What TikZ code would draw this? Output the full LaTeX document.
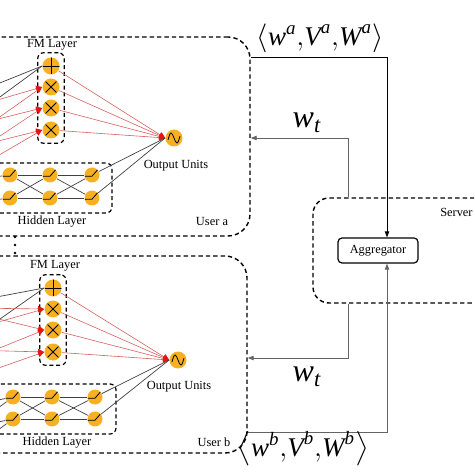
\documentclass[tikz,border=0pt]{standalone}
\usepackage{amsmath}
\usepackage{fontspec}
\setmainfont{Liberation Serif}
\usetikzlibrary{arrows.meta,fit}
\definecolor{nodeor}{RGB}{246,176,34}
\definecolor{redln}{RGB}{214,96,96}
\definecolor{redtip}{RGB}{230,20,20}
\definecolor{conn}{RGB}{100,100,100}
\begin{document}
\begin{tikzpicture}[x=0.5pt,y=-0.5pt,
  font=\fontsize{6.2}{7}\selectfont,
  neuron/.style={circle, fill=nodeor, minimum size=8.5pt, inner sep=0pt},
  plusn/.style={neuron, path picture={\draw[line width=0.4pt] (path picture bounding box.north) -- (path picture bounding box.south) (path picture bounding box.west) -- (path picture bounding box.east);}},
  timesn/.style={neuron, path picture={\draw[line width=0.4pt] ([shift={(-2.7pt,-2.7pt)}]path picture bounding box.center) -- ([shift={(2.7pt,2.7pt)}]path picture bounding box.center) ([shift={(-2.7pt,2.7pt)}]path picture bounding box.center) -- ([shift={(2.7pt,-2.7pt)}]path picture bounding box.center);}},
  relun/.style={neuron, minimum size=7.5pt, path picture={\draw[line width=0.4pt] ([shift={(-3.8pt,-0.6pt)}]path picture bounding box.center) -- ([shift={(0pt,-0.6pt)}]path picture bounding box.center) -- ([shift={(2.8pt,2.6pt)}]path picture bounding box.center);}},
  sinen/.style={neuron, path picture={\draw[line width=0.4pt] ([shift={(-3pt,-1pt)}]path picture bounding box.center) sin ([shift={(-1.5pt,2.5pt)}]path picture bounding box.center) cos (path picture bounding box.center) sin ([shift={(1.5pt,-2.5pt)}]path picture bounding box.center) cos ([shift={(3pt,1pt)}]path picture bounding box.center);}},
  dbox/.style={draw, dash pattern=on 2pt off 1.4pt, line width=0.6pt, rounded corners=3pt},
  userbox/.style={draw, dash pattern=on 2.2pt off 1.5pt, line width=0.7pt, rounded corners=11pt, inner sep=0pt},
  edge/.style={draw=black!75, line width=0.35pt},
  fmin/.style={draw=redln, line width=0.3pt},
  fmtip/.style={-{Triangle[length=3pt,width=3pt,color=redtip]}},
  flow/.style={line width=0.45pt, -{Triangle[length=3pt,width=2.2pt]}},
  lbl/.style={inner sep=1pt},
  mlbl/.style={inner sep=0pt, font=\fontsize{13.5}{15}\selectfont}
]
\useasboundingbox (0,0) rectangle (474,474);
\clip (0,0) rectangle (474,474);

% ---------- containers ----------
\node[userbox, minimum width=140pt, minimum height=99.5pt] (ua) at (110,136.5) {};
\node[userbox, minimum width=138.5pt, minimum height=98.5pt] (ub) at (108.5,354.5) {};
\node[userbox, minimum width=103.5pt, minimum height=52.5pt, rounded corners=8pt] (srv) at (416.5,250.5) {};
\node[draw, line width=0.6pt, rounded corners=2pt, minimum width=40pt, minimum height=12.5pt, inner sep=0pt] (agg) at (378,250.5) {Aggregator};
\node[anchor=east, inner sep=0.5pt] (srvl) at (474,212) {Server};
\node[lbl] (usa) at (212,222) {User a};
\node[lbl] (usb) at (214,442) {User b};

% ---------- user a network ----------
\node[plusn]  (fa1) at (51,66) {};
\node[timesn] (fa2) at (51,87) {};
\node[timesn] (fa3) at (51,108) {};
\node[timesn] (fa4) at (51,130) {};
\node[dbox, fit=(fa1)(fa4), inner sep=2.2pt] (fma) {};
\node[lbl] (fmla) at (52,45) {FM Layer};
\node[sinen] (oa) at (174,138) {};
\node[lbl] (oula) at (176,166) {Output Units};
\node[relun] (ha11) at (10,175) {};
\node[relun] (ha12) at (10,198) {};
\node[relun] (ha21) at (50,175) {};
\node[relun] (ha22) at (50,198) {};
\node[relun] (ha31) at (92,175) {};
\node[relun] (ha32) at (92,198) {};
\draw[dbox] (-20,163) rectangle (112,213);
\node[lbl] (hla) at (52,222) {Hidden Layer};

\coordinate (ia1) at (-30,95);
\coordinate (ia2) at (-30,119);
\coordinate (ia3) at (-30,108);
\coordinate (ia4) at (-30,138);
\coordinate (ia5) at (-30,126);
\coordinate (ia6) at (-30,156);
\coordinate (ia7) at (-30,148);
\coordinate (ia8) at (-30,172);
\coordinate (ha01) at (-15,178);
\coordinate (ha02) at (-15,201);

\draw[edge] (ia1) -- (fa1.west);
\draw[edge] (ia2) -- (fa1.west);
\draw[fmin, fmtip] (ia3) -- (fa2.west);
\draw[fmin, fmtip] (ia4) -- (fa2.west);
\draw[fmin, fmtip] (ia5) -- (fa3.west);
\draw[fmin, fmtip] (ia6) -- (fa3.west);
\draw[fmin, fmtip] (ia7) -- (fa4.west);
\draw[fmin, fmtip] (ia8) -- (fa4.west);
\foreach \s in {fa1,fa2,fa3,fa4} \draw[fmin, fmtip] (\s) -- (oa.west);
\draw[edge] (ha01) -- (ha11);
\draw[edge] (ha02) -- (ha12);
\foreach \s in {ha11,ha12} \foreach \t in {ha21,ha22} \draw[edge] (\s) -- (\t);
\foreach \s in {ha21,ha22} \foreach \t in {ha31,ha32} \draw[edge] (\s) -- (\t);
\draw[edge] (ha31) -- (oa.west);
\draw[edge] (ha32) -- (oa.west);

% ---------- user b network ----------
\node[plusn]  (fb1) at (53,288) {};
\node[timesn] (fb2) at (53,309) {};
\node[timesn] (fb3) at (53,330) {};
\node[timesn] (fb4) at (53,352) {};
\node[dbox, fit=(fb1)(fb4), inner sep=2.2pt] (fmb) {};
\node[lbl] (fmlb) at (55,266) {FM Layer};
\node[sinen] (ob) at (178,360) {};
\node[lbl] (oulb) at (179,387) {Output Units};
\node[relun] (hb11) at (13,397) {};
\node[relun] (hb12) at (13,419) {};
\node[relun] (hb21) at (52,397) {};
\node[relun] (hb22) at (52,419) {};
\node[relun] (hb31) at (95,397) {};
\node[relun] (hb32) at (95,419) {};
\draw[dbox] (-20,384) rectangle (116,434);
\node[lbl] (hlb) at (57,443) {Hidden Layer};

\coordinate (ib1) at (-30,302);
\coordinate (ib2) at (-30,340);
\coordinate (ib3) at (-30,308);
\coordinate (ib4) at (-30,330);
\coordinate (ib5) at (-30,312);
\coordinate (ib6) at (-30,360);
\coordinate (ib7) at (-30,350);
\coordinate (ib8) at (-30,378);
\coordinate (hb01) at (-12,402);
\coordinate (hb02) at (-12,424);
\coordinate (hb03) at (-2,408);
\coordinate (hb04) at (-2,430);

\draw[edge] (ib1) -- (fb1.west);
\draw[edge] (ib2) -- (fb1.west);
\draw[fmin, fmtip] (ib3) -- (fb2.west);
\draw[fmin, fmtip] (ib4) -- (fb2.west);
\draw[fmin, fmtip] (ib5) -- (fb3.west);
\draw[fmin, fmtip] (ib6) -- (fb3.west);
\draw[fmin, fmtip] (ib7) -- (fb4.west);
\draw[fmin, fmtip] (ib8) -- (fb4.west);
\foreach \s in {fb1,fb2,fb3,fb4} \draw[fmin, fmtip] (\s) -- (ob.west);
\draw[edge] (hb01) -- (hb11);
\draw[edge] (hb02) -- (hb12);
\draw[edge] (hb03) -- (hb11);
\draw[edge] (hb04) -- (hb12);
\foreach \s in {hb11,hb12} \foreach \t in {hb21,hb22} \draw[edge] (\s) -- (\t);
\foreach \s in {hb21,hb22} \foreach \t in {hb31,hb32} \draw[edge] (\s) -- (\t);
\draw[edge] (hb31) -- (ob.west);
\draw[edge] (hb32) -- (ob.west);

% ---------- vertical dots ----------
\foreach \y in {237,245,253} \fill (15,\y) circle (0.65pt);

% ---------- flows ----------
\coordinate (pa) at (387,57);
\draw[flow] (ua.east |- pa) -- (pa) -- (agg.north -| pa);
\coordinate (qa) at (348,138);
\draw[flow, conn] (srv.north -| qa) -- (qa) -- (ua.east |- qa);
\coordinate (qb) at (348,358);
\draw[flow, conn] (srv.south -| qb) -- (qb) -- (ub.east |- qb);
\coordinate (pb) at (387,432);
\draw[flow, conn] (ub.east |- pb) -- (pb) -- (agg.south -| pb);

\node[mlbl] (laba) at (320,38) {$\left\langle \textit{w}^{\textit{a}}{,}\textit{V}^{\textit{a}}{,}\textit{W}^{\textit{a}}\right\rangle$};
\node[mlbl] (labb) at (303,449) {$\left\langle \textit{w}^{\textit{b}}{,}\textit{V}^{\textit{b}}{,}\textit{W}^{\textit{b}}\right\rangle$};
\node[font=\fontsize{16}{18}\selectfont] (wta) at (307,123) {$\textit{w}_{\textit{t}}$};
\node[font=\fontsize{16}{18}\selectfont] (wtb) at (307,377) {$\textit{w}_{\textit{t}}$};
\end{tikzpicture}
\end{document}
